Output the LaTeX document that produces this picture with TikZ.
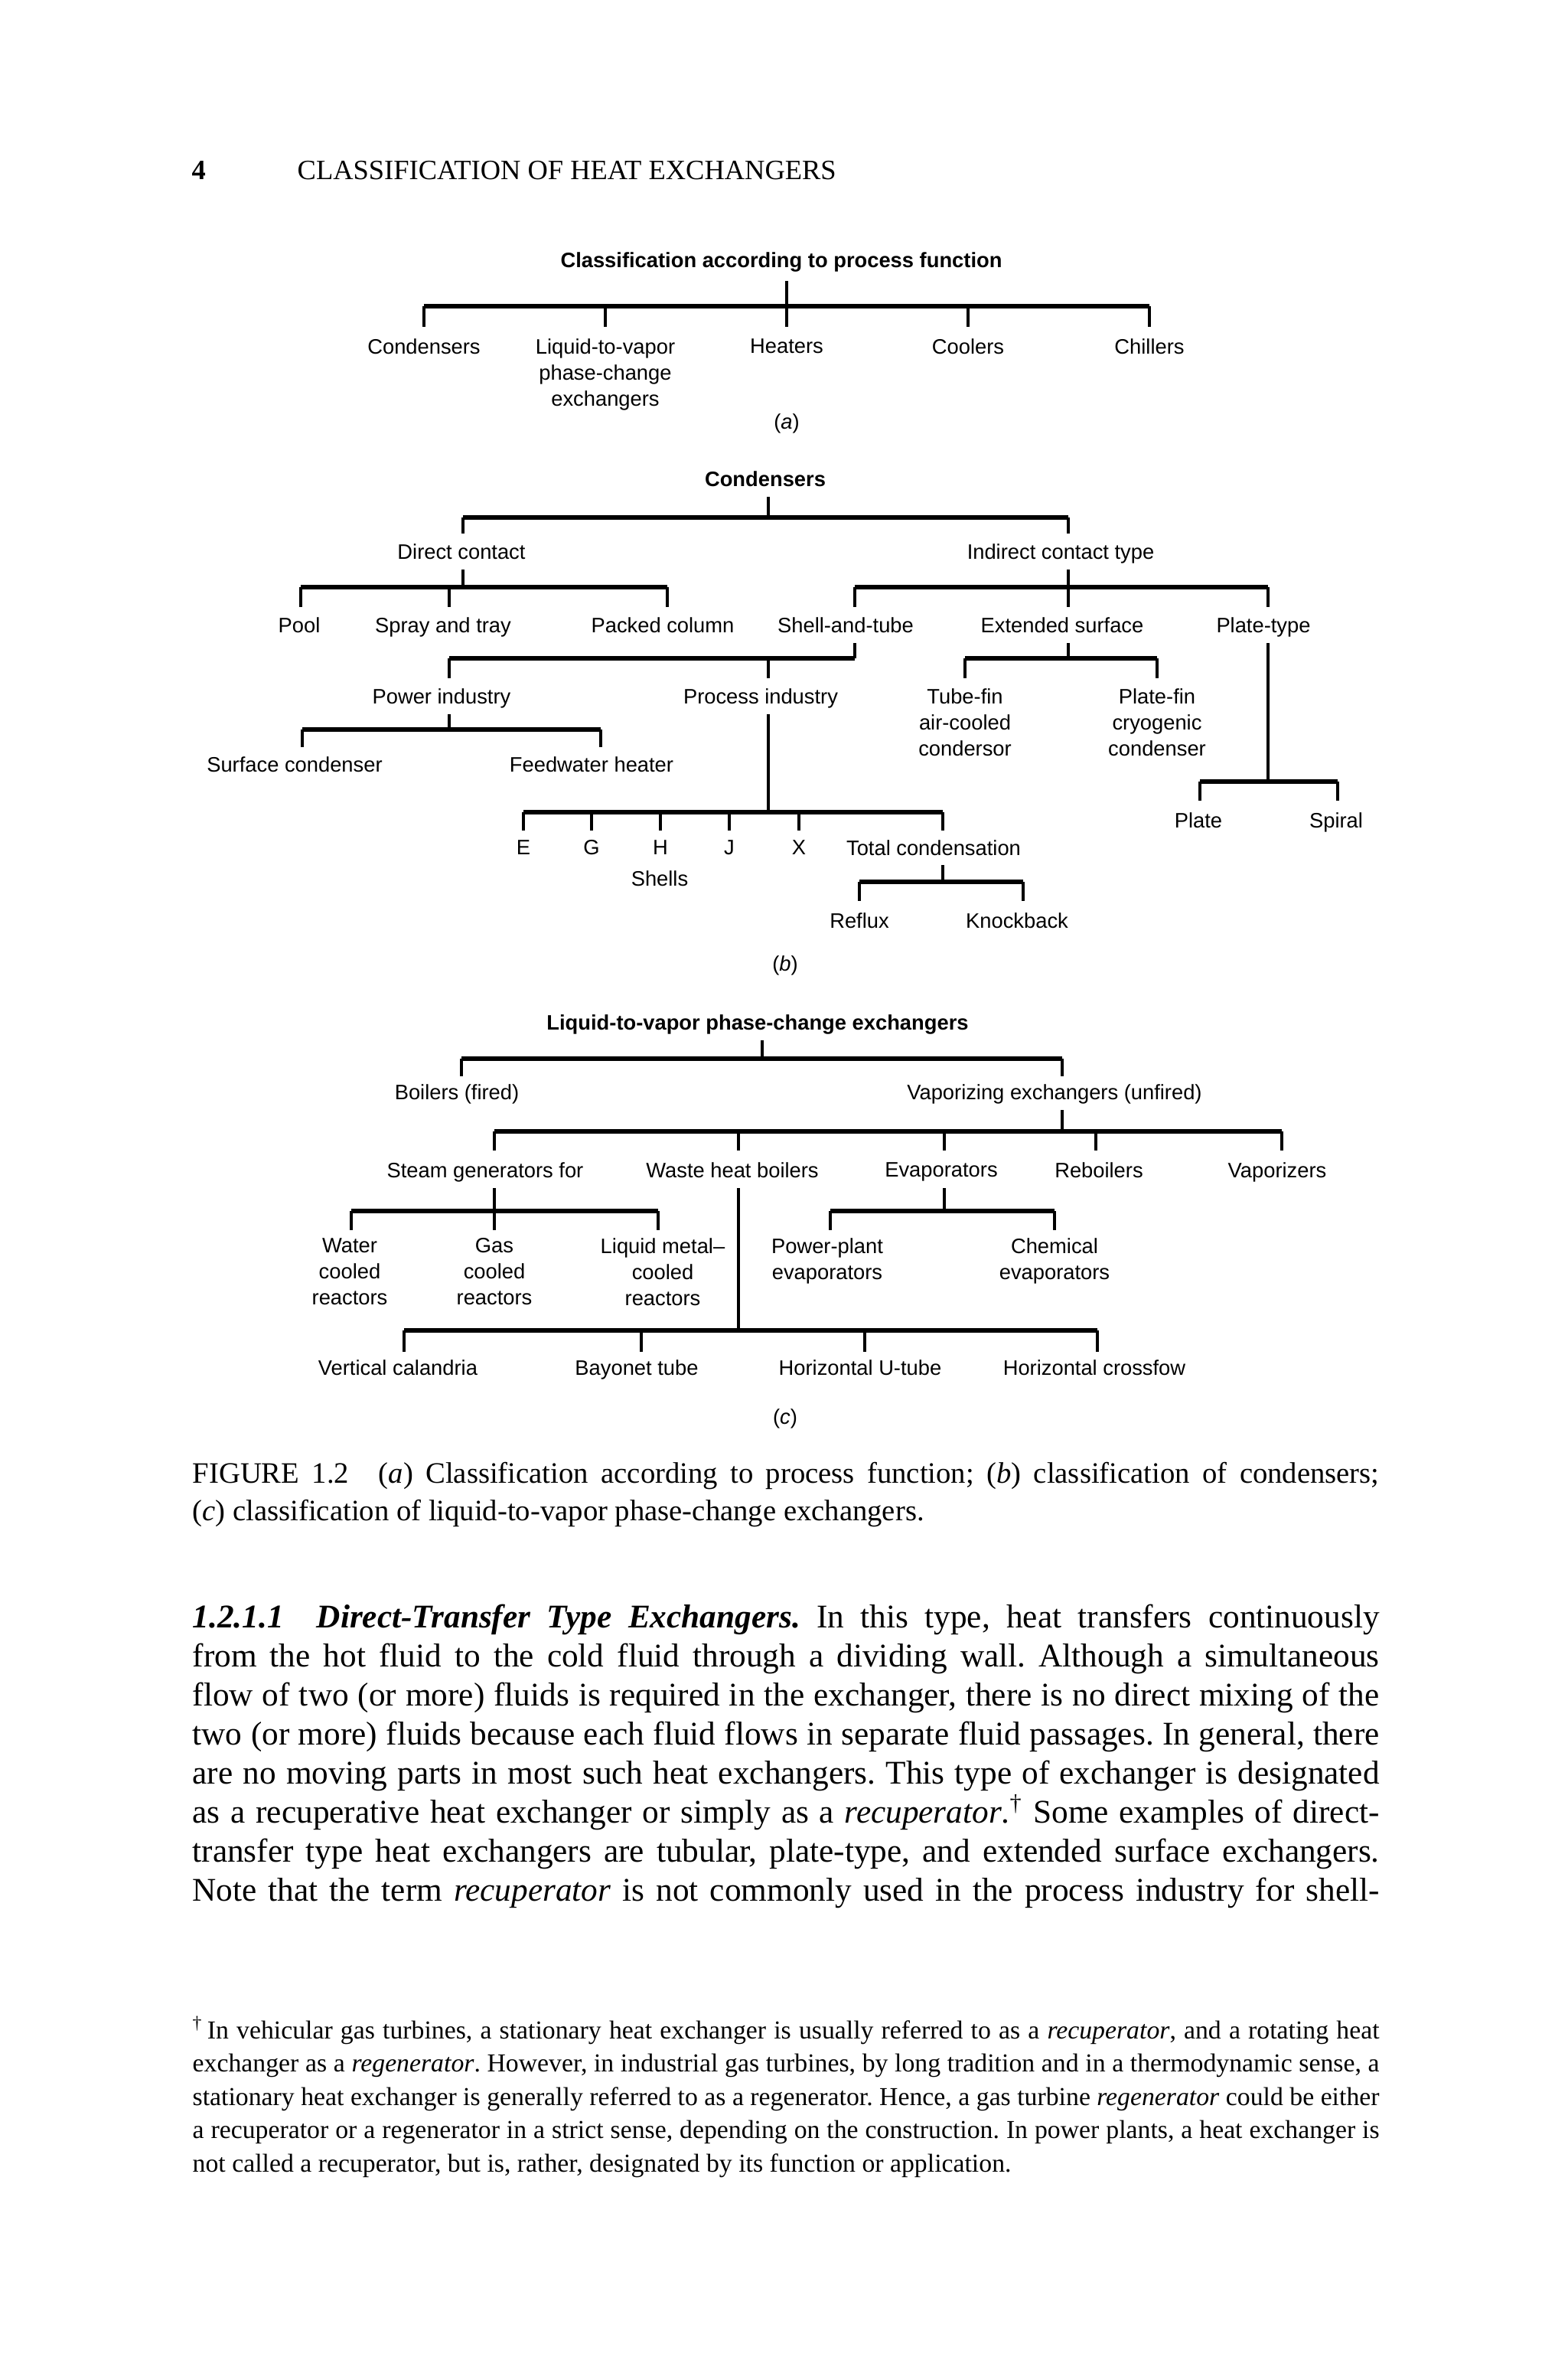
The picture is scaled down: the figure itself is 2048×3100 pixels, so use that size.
\documentclass[tikz,border=0pt]{standalone}
\usepackage{fontspec}
\setmainfont{Liberation Serif}
\setsansfont{Liberation Sans}
\usetikzlibrary{calc}
\newcommand{\lblfont}{\sffamily\fontsize{7.77}{9.67}\selectfont}
\newcommand{\hdrfont}{\fontsize{10.37}{12}\selectfont}
\newcommand{\capfont}{\fontsize{11}{13.94}\selectfont}
\newcommand{\bodyfont}{\fontsize{12.3}{14.51}\selectfont}
\newcommand{\notefont}{\fontsize{9.6}{12.38}\selectfont}

\begin{document}
\begin{tikzpicture}[x=0.01cm, y=-0.01cm,
		lbl/.style={font=\lblfont, inner sep=0pt, anchor=north, align=center},
		ttl/.style={font=\lblfont\bfseries, inner sep=0pt, anchor=north},
		barline/.style={line width=1.5pt},
		stemline/.style={line width=0.9pt},
		txt/.style={inner sep=0pt, anchor=base west, text width=15.5cm, align=justify}]
			%%%%% START %%%%%
			\fill[white] (0,0) rectangle (2048,3100);
			\useasboundingbox (0,0) rectangle (2048,3100);
			
			% running head
			\node[inner sep=0pt, anchor=base west, font=\hdrfont\bfseries] (pgno) at (250,235) {4};
			\node[inner sep=0pt, anchor=base west, font=\hdrfont] (runhead) at (388,235) {CLASSIFICATION OF HEAT EXCHANGERS};
			
			% (a)
			\node[ttl] (clsf) at (1021,329) {Classification according to process function};
			\node[lbl] (cond) at (554,442) {Condensers};
			\node[lbl] (liq) at (791,442) {Liquid-to-vapor\\phase-change\\exchangers};
			\node[lbl] (heat) at (1028,442) {Heaters};
			\node[lbl] (cool) at (1265,442) {Coolers};
			\node[lbl] (chill) at (1502,442) {Chillers};
			\coordinate (barA) at (0,400);
			\draw[stemline] ($(clsf.north)+(7,38)$) -- ($(clsf.north |- barA)+(7,0)$);
			\draw[barline] (cond.north |- barA) -- (chill.north |- barA);
			\foreach \n in {cond,liq,heat,cool,chill}
				\draw[stemline] (\n.north |- barA) -- ($(\n.north)+(0,-15)$);
			\node[font=\lblfont, inner sep=0pt] (capa) at (1028,553) {(\textit{a})};
			
			% (b)
			\node[ttl] (cnd) at (1000,615) {Condensers};
			\node[lbl] (dirc) at (603,710) {Direct contact};
			\node[lbl] (indc) at (1386,710) {Indirect contact type};
			\coordinate (barB) at (0,676);
			\draw[stemline] ($(cnd.north)+(4,34)$) -- ($(cnd.north |- barB)+(4,0)$);
			\draw[barline] ($(dirc.north |- barB)+(2,0)$) -- ($(indc.north |- barB)+(10,0)$);
			\foreach \n/\d in {dirc/2,indc/10}
				\draw[stemline] ($(\n.north |- barB)+(\d,0)$) -- ($(\n.north)+(\d,-13)$);
			
			\node[lbl] (pool) at (391,806) {Pool};
			\node[lbl] (spray) at (579,806) {Spray and tray};
			\node[lbl] (pack) at (866,806) {Packed column};
			\node[lbl] (shell) at (1105,806) {Shell-and-tube};
			\node[lbl] (ext) at (1388,806) {Extended surface};
			\node[lbl] (platet) at (1651,806) {Plate-type};
			\coordinate (barD) at (0,767);
			\draw[stemline] ($(dirc.north)+(2,34)$) -- ($(dirc.north |- barD)+(2,0)$);
			\draw[stemline] ($(indc.north)+(10,34)$) -- ($(indc.north |- barD)+(10,0)$);
			\draw[barline] ($(pool.north |- barD)+(2,0)$) -- ($(pack.north |- barD)+(6,0)$);
			\draw[barline] ($(shell.north |- barD)+(12,0)$) -- ($(platet.north |- barD)+(6,0)$);
			\foreach \n/\d in {pool/2,spray/8,pack/6,shell/12,ext/8,platet/6}
				\draw[stemline] ($(\n.north |- barD)+(\d,0)$) -- ($(\n.north)+(\d,-13)$);
			
			\node[lbl] (power) at (577,899) {Power industry};
			\node[lbl] (proc) at (994,899) {Process industry};
			\node[lbl] (tubef) at (1261,899) {Tube-fin\\air-cooled\\condersor};
			\node[lbl] (platef) at (1512,899) {Plate-fin\\cryogenic\\condenser};
			\coordinate (barS) at (0,860);
			\draw[stemline] ($(shell.north)+(12,34)$) -- ($(shell.north |- barS)+(12,0)$);
			\draw[stemline] ($(ext.north)+(8,34)$) -- ($(ext.north |- barS)+(8,0)$);
			\draw[barline] ($(power.north |- barS)+(10,0)$) -- ($(shell.north |- barS)+(12,0)$);
			\draw[barline] (tubef.north |- barS) -- (platef.north |- barS);
			\foreach \n/\d in {power/10,proc/10,tubef/0,platef/0}
				\draw[stemline] ($(\n.north |- barS)+(\d,0)$) -- ($(\n.north)+(\d,-13)$);
			
			\node[lbl] (surf) at (385,988) {Surface condenser};
			\node[lbl] (feed) at (773,988) {Feedwater heater};
			\coordinate (barW) at (0,953);
			\draw[stemline] ($(power.north)+(10,34)$) -- ($(power.north |- barW)+(10,0)$);
			\draw[barline] ($(surf.north |- barW)+(10,0)$) -- ($(feed.north |- barW)+(12,0)$);
			\foreach \n/\d in {surf/10,feed/12}
				\draw[stemline] ($(\n.north |- barW)+(\d,0)$) -- ($(\n.north)+(\d,-12)$);
			
			\node[lbl] (plate) at (1566,1061) {Plate};
			\node[lbl] (spiral) at (1746,1061) {Spiral};
			\coordinate (barP) at (0,1021);
			\draw[stemline] ($(platet.north)+(6,34)$) -- ($(platet.north |- barP)+(6,0)$);
			\draw[barline] ($(plate.north |- barP)+(2,0)$) -- ($(spiral.north |- barP)+(2,0)$);
			\foreach \n/\d in {plate/2,spiral/2}
				\draw[stemline] ($(\n.north |- barP)+(\d,0)$) -- ($(\n.north)+(\d,-15)$);
			
			\node[lbl] (she) at (684,1097) {E};
			\node[lbl] (shg) at (773,1097) {G};
			\node[lbl] (shh) at (863,1097) {H};
			\node[lbl] (shj) at (953,1097) {J};
			\node[lbl] (shx) at (1044,1097) {X};
			\node[lbl] (tot) at (1220,1097) {Total condensation};
			\node[lbl] (shells) at (862,1137) {Shells};
			\coordinate (barE) at (0,1061);
			\draw[stemline] ($(proc.north)+(10,34)$) -- ($(proc.north |- barE)+(10,0)$);
			\draw[barline] (she.north |- barE) -- ($(tot.north |- barE)+(12,0)$);
			\foreach \n/\d in {she/0,shg/0,shh/0,shj/0,shx/0,tot/12}
				\draw[stemline] ($(\n.north |- barE)+(\d,0)$) -- ($(\n.north)+(\d,-12)$);
			
			\node[lbl] (reflux) at (1123,1192) {Reflux};
			\node[lbl] (knock) at (1329,1192) {Knockback};
			\coordinate (barT) at (0,1152);
			\draw[stemline] ($(tot.north)+(12,33)$) -- ($(tot.north |- barT)+(12,0)$);
			\draw[barline] (reflux.north |- barT) -- ($(knock.north |- barT)+(8,0)$);
			\foreach \n/\d in {reflux/0,knock/8}
				\draw[stemline] ($(\n.north |- barT)+(\d,0)$) -- ($(\n.north)+(\d,-15)$);
			\node[font=\lblfont, inner sep=0pt] (capb) at (1026,1261) {(\textit{b})};
			
			% (c)
			\node[ttl] (lvpc) at (990,1325) {Liquid-to-vapor phase-change exchangers};
			\node[lbl] (boil) at (597,1416) {Boilers (fired)};
			\node[lbl] (vapx) at (1378,1416) {Vaporizing exchangers (unfired)};
			\coordinate (barL) at (0,1383);
			\draw[stemline] ($(lvpc.north)+(6,34)$) -- ($(lvpc.north |- barL)+(6,0)$);
			\draw[barline] ($(boil.north |- barL)+(6,0)$) -- ($(vapx.north |- barL)+(10,0)$);
			\foreach \n/\d in {boil/6,vapx/10}
				\draw[stemline] ($(\n.north |- barL)+(\d,0)$) -- ($(\n.north)+(\d,-10)$);
			
			\node[lbl] (steam) at (634,1518) {Steam generators for};
			\node[lbl] (waste) at (957,1518) {Waste heat boilers};
			\node[lbl] (evap) at (1230,1518) {Evaporators};
			\node[lbl] (reb) at (1436,1518) {Reboilers};
			\node[lbl] (vapz) at (1669,1518) {Vaporizers};
			\coordinate (barU) at (0,1478);
			\draw[stemline] ($(vapx.north)+(10,34)$) -- ($(vapx.north |- barU)+(10,0)$);
			\draw[barline] ($(steam.north |- barU)+(12,0)$) -- ($(vapz.north |- barU)+(6,0)$);
			\foreach \n/\d in {steam/12,waste/8,evap/4,reb/-4,vapz/6}
				\draw[stemline] ($(\n.north |- barU)+(\d,0)$) -- ($(\n.north)+(\d,-15)$);
			
			\node[lbl] (water) at (457,1617) {Water\\cooled\\reactors};
			\node[lbl] (gas) at (646,1617) {Gas\\cooled\\reactors};
			\node[lbl] (lmet) at (866,1617) {Liquid metal--\\cooled\\reactors};
			\node[lbl] (ppev) at (1081,1617) {Power-plant\\evaporators};
			\node[lbl] (chev) at (1378,1617) {Chemical\\evaporators};
			\coordinate (barG) at (0,1582);
			\draw[stemline] ($(steam.north)+(12,34)$) -- ($(steam.north |- barG)+(12,0)$);
			\draw[stemline] ($(evap.north)+(4,34)$) -- ($(evap.north |- barG)+(4,0)$);
			\draw[barline] ($(water.north |- barG)+(2,0)$) -- ($(lmet.north |- barG)+(-6,0)$);
			\draw[barline] ($(ppev.north |- barG)+(4,0)$) -- (chev.north |- barG);
			\foreach \n/\d in {water/2,gas/0,lmet/-6,ppev/4,chev/0}
				\draw[stemline] ($(\n.north |- barG)+(\d,0)$) -- ($(\n.north)+(\d,-10)$);
			
			\node[lbl] (vcal) at (520,1776) {Vertical calandria};
			\node[lbl] (bayo) at (832,1776) {Bayonet tube};
			\node[lbl] (hutb) at (1124,1776) {Horizontal U-tube};
			\node[lbl] (hcrs) at (1430,1776) {Horizontal crossfow};
			\coordinate (barH) at (0,1738);
			\draw[stemline] ($(waste.north)+(8,34)$) -- ($(waste.north |- barH)+(8,0)$);
			\draw[barline] ($(vcal.north |- barH)+(8,0)$) -- ($(hcrs.north |- barH)+(4,0)$);
			\foreach \n/\d in {vcal/8,bayo/6,hutb/6,hcrs/4}
				\draw[stemline] ($(\n.north |- barH)+(\d,0)$) -- ($(\n.north)+(\d,-10)$);
			\node[font=\lblfont, inner sep=0pt] (capc) at (1026,1853) {(\textit{c})};
			
			% caption, text and footnote
			\node[txt, font=\capfont] (caption) at (251,1937) {\frenchspacing\tolerance=10000\exhyphenpenalty=10000
				FIGURE 1.2\quad (\textit{a}) Classification according to process function; (\textit{b}) classification of condensers;\linebreak
				(\textit{c}) classification of liquid-to-vapor phase-change exchangers.\par};
			\node[txt, font=\bodyfont] (body) at (251,2126) {\frenchspacing\tolerance=10000\exhyphenpenalty=10000\parfillskip=0pt
				\textbf{\textit{1.2.1.1\quad Direct-Transfer Type Exchangers.}} In this type, heat transfers continuously\linebreak
				from the hot fluid to the cold fluid through a dividing wall. Although a simultaneous\linebreak
				flow of two (or more) fluids is required in the exchanger, there is no direct mixing of the\linebreak
				two (or more) fluids because each fluid flows in separate fluid passages. In general, there\linebreak
				are no moving parts in most such heat exchangers. This type of exchanger is designated\linebreak
				as a recuperative heat exchanger or simply as a \textit{recuperator}.\textsuperscript{\textdagger} Some examples of direct-\linebreak
				transfer type heat exchangers are tubular, plate-type, and extended surface exchangers.\linebreak
				Note that the term \textit{recuperator} is not commonly used in the process industry for shell-\par};
			\node[txt, font=\notefont] (fnote) at (251,2663) {\frenchspacing\tolerance=10000\exhyphenpenalty=10000
				\textsuperscript{\textdagger}\,In vehicular gas turbines, a stationary heat exchanger is usually referred to as a \textit{recuperator}, and a rotating heat\linebreak
				exchanger as a \textit{regenerator}. However, in industrial gas turbines, by long tradition and in a thermodynamic sense, a\linebreak
				stationary heat exchanger is generally referred to as a regenerator. Hence, a gas turbine \textit{regenerator} could be either\linebreak
				a recuperator or a regenerator in a strict sense, depending on the construction. In power plants, a heat exchanger is\linebreak
				not called a recuperator, but is, rather, designated by its function or application.\par};
			%%%%% END %%%%%
\end{tikzpicture}
\end{document}
